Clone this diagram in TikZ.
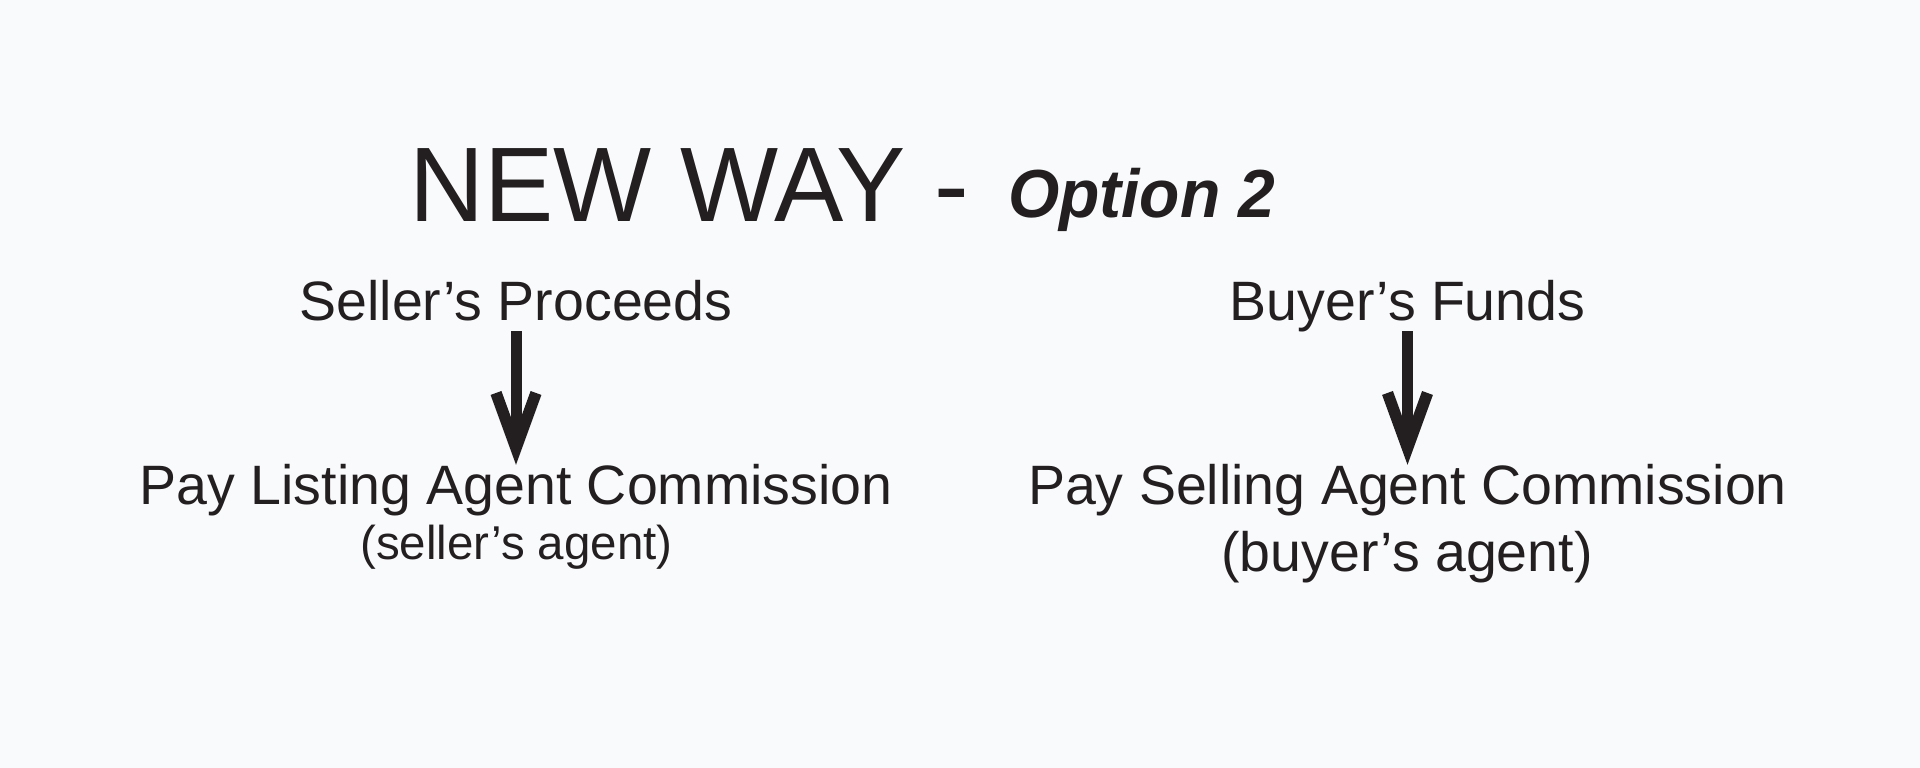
\documentclass[tikz,border=0pt]{standalone}
\usepackage{fontspec}
\setmainfont{Liberation Sans}
\usepackage{graphicx}
\usetikzlibrary{arrows.meta}
\definecolor{bgc}{HTML}{F9FAFC}
\definecolor{ink}{HTML}{231F20}
\begin{document}
\begin{tikzpicture}[x=1pt,y=-1pt,
  lbl/.style={inner sep=0pt, outer sep=0pt, anchor=base, text=ink},
  mainsz/.style={font=\fontsize{55.5}{60}\selectfont},
  conn/.style={draw=ink, line width=11pt, line cap=butt,
    -{Straight Barb[length=55pt, width=40pt, line width=11.5pt, line cap=butt, line join=miter]}}]
\useasboundingbox[fill=bgc] (0,0) rectangle (1920,768);
% title
\node[lbl, anchor=base west] (title) at (409,221)
  {\scalebox{0.98}[1]{\fontsize{106}{120}\selectfont NEW WAY -}};
\node[lbl, anchor=base west] (opt) at (1008,217)
  {\scalebox{0.97}[1]{\fontsize{68}{72}\selectfont\bfseries\itshape Option 2}};
% left column
\node[lbl, mainsz] (sp) at (516,320) {Seller’s Proceeds};
\node[lbl, mainsz] (pl) at (516,504) {Pay Listing Agent Commission};
\node[lbl, font=\fontsize{47.5}{52}\selectfont] (sa) at (516.5,559) {(seller’s agent)};
% right column
\node[lbl, mainsz] (bf) at (1407.5,320) {Buyer’s Funds};
\node[lbl, mainsz] (ps) at (1407.5,504) {Pay Selling Agent Commission};
\node[lbl, mainsz] (ba) at (1407,571) {(buyer’s agent)};
% connectors
\draw[conn] ([yshift=-11pt]sp.base) -- ([yshift=-1pt]sp.base |- pl.north);
\draw[conn] ([yshift=-11pt]bf.base) -- ([yshift=-1pt]bf.base |- ps.north);
\end{tikzpicture}
\end{document}
